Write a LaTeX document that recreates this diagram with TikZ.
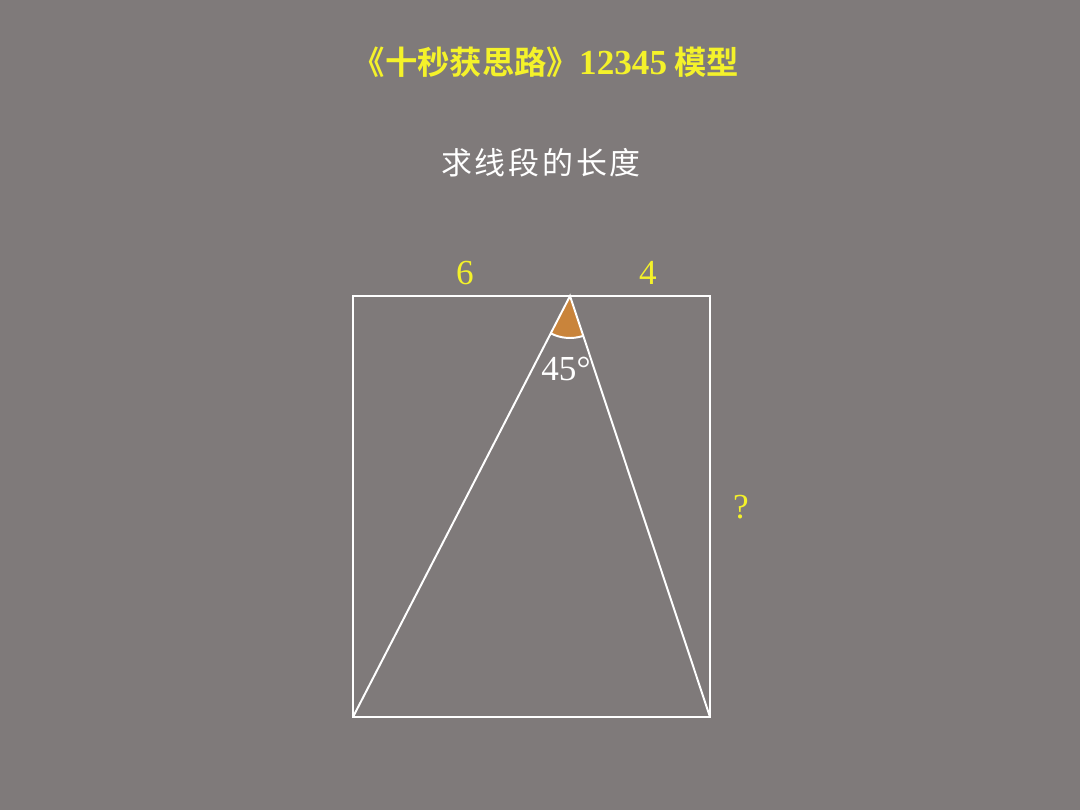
\documentclass[tikz,border=0pt]{standalone}
\usepackage{fontspec}
\setmainfont{Liberation Serif}
\newfontfamily\cjk{Noto Sans CJK SC}
\newfontfamily\cjkbold{Noto Sans CJK SC Bold}
\usetikzlibrary{calc,angles}
\definecolor{bgGray}{HTML}{7F7A7A}
\definecolor{tiYellow}{HTML}{F4F22A}
\definecolor{wedgeBrown}{HTML}{C9843B}
\tikzset{
  edgeline/.style={white,line width=1.4pt},
  numlabel/.style={tiYellow,font=\fontsize{25}{25}\selectfont,inner sep=0pt}
}
\begin{document}
\begin{tikzpicture}[x=0.025cm,y=0.025cm]
        \fill[bgGray] (0,0) rectangle (1080,810);
        \useasboundingbox (0,0) rectangle (1080,810);
        %标题
        \node (title) [tiYellow,font=\fontsize{23}{23}\selectfont] at (546,748)
          {\cjkbold 《十秒获思路》{\rmfamily\bfseries\fontsize{25}{25}\selectfont 12345} 模型};
        \node (task) [white,font=\fontsize{22}{22}\selectfont] at (541,647)
          {\cjk 求\hspace{2pt}线\hspace{2pt}段\hspace{2pt}的\hspace{2pt}长\hspace{2pt}度};
        %矩形与三角形
        \coordinate (BL) at (353,93);
        \coordinate (BR) at (710,93);
        \coordinate (TR) at (710,514);
        \coordinate (TL) at (353,514);
        \coordinate (P) at (570,514);
        \pic[fill=wedgeBrown,draw=white,line width=1.4pt,angle radius=1.05cm] {angle=BL--P--BR};
        \draw[edgeline] (BL) -- (BR) -- (TR) -- (TL) -- cycle;
        \draw[edgeline] (BL) -- (P) -- (BR);
        %标注
        \node (six) [numlabel] at (465,537) {6};
        \node (four) [numlabel] at (648,537) {4};
        \node (ask) [numlabel] at (741,303) {?};
        \node (ang) [white,font=\fontsize{25}{25}\selectfont,inner sep=0pt] at (566,441) {45\textdegree};
\end{tikzpicture}
\end{document}
